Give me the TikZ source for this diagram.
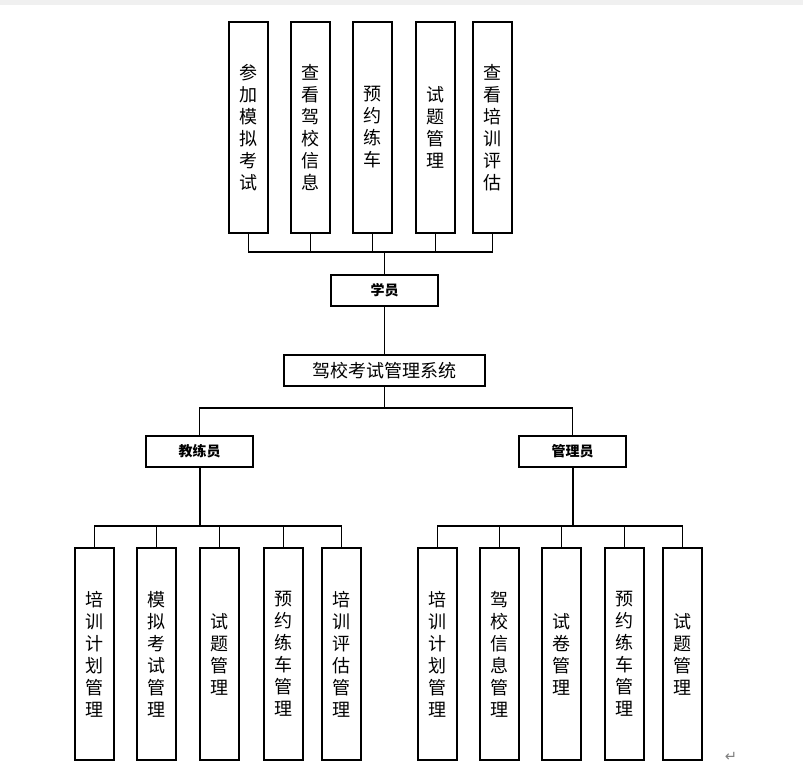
\documentclass[tikz,border=0pt]{standalone}
\usepackage{fontspec}
\newfontfamily\cjk{Noto Sans CJK SC}
\newfontfamily\dvs{DejaVu Sans}
\begin{document}
\begin{tikzpicture}[x=0.75pt,y=-0.75pt,
  vbox/.style={draw,line width=0.8pt,inner sep=0pt,align=center,font=\cjk\fontsize{13.5}{16.5}\selectfont},
  hbox/.style={draw,line width=0.8pt,inner sep=0pt,font=\cjk\bfseries\fontsize{10.5}{12}\selectfont},
  conn/.style={line width=0.8pt}]
\useasboundingbox (0,0) rectangle (803,776);
\fill[black!6] (0,0) rectangle (803,5);
% top boxes
\foreach \n/\x/\t in {t1/229/参\\加\\模\\拟\\考\\试, t2/291/查\\看\\驾\\校\\信\\息, t3/353/预\\约\\练\\车, t4/416/试\\题\\管\\理, t5/473/查\\看\\培\\训\\评\\估}{
  \node[vbox,minimum width=29.25pt,minimum height=158.25pt] (\n) at (\x+19.5,127.5) {\t};
}
\node[hbox,minimum width=80.25pt,minimum height=23.25pt] (stu) at (384.5,290.5) {学员};
\node[draw,line width=0.8pt,inner sep=0pt,minimum width=150.75pt,minimum height=23.25pt,font=\cjk\fontsize{13.5}{16}\selectfont] (sys) at (384.5,370.5) {驾校考试管理系统};
\node[hbox,minimum width=80.25pt,minimum height=23.25pt] (coach) at (199.5,451.5) {教练员};
\node[hbox,minimum width=80.25pt,minimum height=23.25pt] (admin) at (572.5,451.5) {管理员};
\foreach \n/\x/\t in {c1/75/培\\训\\计\\划\\管\\理, c2/137/模\\拟\\考\\试\\管\\理, c3/200/试\\题\\管\\理, c4/264/预\\约\\练\\车\\管\\理, c5/322/培\\训\\评\\估\\管\\理,
  a1/418/培\\训\\计\\划\\管\\理, a2/480/驾\\校\\信\\息\\管\\理, a3/542/试\\卷\\管\\理, a4/605/预\\约\\练\\车\\管\\理, a5/663/试\\题\\管\\理}{
  \node[vbox,minimum width=29.25pt,minimum height=159pt] (\n) at (\x+19.5,654) {\t};
}
% connectors
\coordinate (tb) at (384.5,252);
\draw[conn] (t1.south) |- (tb) -| (t5.south);
\foreach \n in {t2,t3,t4}{\draw[conn] (\n.south) -- (\n.south |- tb);}
\draw[conn] (stu.north) -- (tb);
\draw[conn] (stu.south) -- (sys.north);
\coordinate (mb) at (384.5,408);
\draw[conn] (sys.south) -- (mb);
\draw[conn] (coach.north) |- (mb) -| (admin.north);
\coordinate (cb) at (199.5,526);
\coordinate (ab) at (572.5,526);
\draw[line width=1.5pt] (coach.south) -- (cb);
\draw[line width=1.5pt] (admin.south) -- (ab);
\draw[conn] (c1.north) |- (cb) -| (c5.north);
\foreach \n in {c2,c3,c4}{\draw[conn] (\n.north) -- (\n.north |- cb);}
\draw[conn] (a1.north) |- (ab) -| (a5.north);
\foreach \n in {a2,a3,a4}{\draw[conn] (\n.north) -- (\n.north |- ab);}
\node[font=\dvs\fontsize{11}{12}\selectfont,text=black!50] (ret) at (731,757) {↵};
\end{tikzpicture}
\end{document}
